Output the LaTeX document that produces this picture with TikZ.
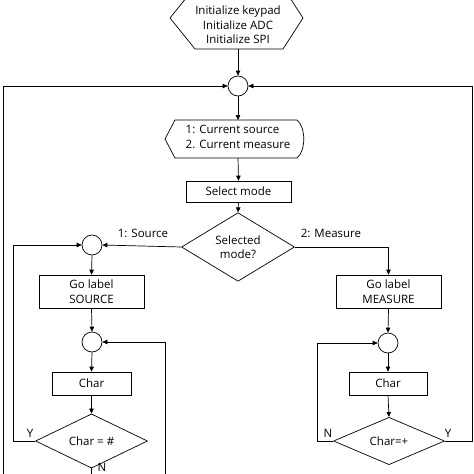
\documentclass[tikz,border=0pt]{standalone}
\usepackage{fontspec}
\setmainfont{Open Sans}
\usetikzlibrary{arrows.meta,shapes.geometric}
\begin{document}
\begin{tikzpicture}[x=1pt,y=-1pt,
  font=\fontsize{11.5}{14.5}\selectfont,
  line width=0.7pt,
  flow/.style={draw=black, line width=0.7pt, -{Triangle[length=5pt,width=4.5pt]}},
  plain/.style={draw=black, line width=0.7pt},
  boxnode/.style={draw=black, line width=0.7pt, rectangle, inner sep=0pt, align=center},
  joint/.style={draw=black, line width=0.7pt, circle, inner sep=0pt, minimum size=20pt},
  decision/.style={draw=black, line width=0.7pt, diamond, inner sep=0pt, align=center},
  lbl/.style={inner sep=0pt}
]
\useasboundingbox (0,0) rectangle (474,474);
\clip (0,0) rectangle (474,474);
\fill[white] (0,0) rectangle (474,474);

% top hexagon
\draw[plain] (195,-13) -- (170,18) -- (195,49) -- (283,49) -- (303,18) -- (283,-13) -- cycle;
\node[lbl, align=center] (init) at (238,25) {Initialize keypad\\Initialize ADC\\Initialize SPI};
\coordinate (initb) at (238,49);

\node[joint] (c1) at (238,86) {};

% display shape
\draw[plain] (165,139) -- (175,120) -- (297,120) .. controls (306,127) and (306,151) .. (297,158) -- (175,158) -- cycle;
\node[lbl, align=left] (disp) at (238,137) {1: Current source\\2. Current measure};
\coordinate (dispt) at (238,120);
\coordinate (dispb) at (238,158);

\node[boxnode, minimum width=105pt, minimum height=21pt] (sel) at (238.5,191.5) {Select mode};
\node[decision, minimum width=113pt, minimum height=49pt] (d1) at (238,247) {Selected\\mode?};

% left column
\node[joint] (c2) at (92,245) {};
\node[boxnode, minimum width=105pt, minimum height=33pt] (src) at (91.5,291.5) {Go label\\SOURCE};
\node[joint] (c3) at (92,342) {};
\node[boxnode, minimum width=79pt, minimum height=23pt] (chl) at (91.5,383.5) {Char};
\node[decision, minimum width=112pt, minimum height=44pt] (d2) at (91.5,441) {Char = \#};

% right column
\node[boxnode, minimum width=105pt, minimum height=33pt] (meas) at (388.5,291.5) {Go label\\MEASURE};
\node[joint] (c4) at (388,343) {};
\node[boxnode, minimum width=78pt, minimum height=23pt] (chr) at (388,383.5) {Char};
\node[decision, minimum width=111pt, minimum height=44pt] (d3) at (389,441) {Char=+};

% loop corner coordinates
\coordinate (bl) at (3,474);
\coordinate (bm) at (165,474);
\coordinate (bn) at (91.5,474);
\coordinate (yl) at (13,441);
\coordinate (nr) at (317,441);
\coordinate (yr) at (472,441);

% connectors
\draw[flow] (initb) -- (c1.north);
\draw[flow] (c1.south) -- (dispt);
\draw[flow] (dispb) -- (sel.north);
\draw[flow] (sel.south) -- (d1.north);
\draw[flow] (d1.west) -- (c2.east);
\draw[flow] (d1.east) -| (meas.north);
\draw[flow] (c2.south) -- (src.north);
\draw[flow] (src.south) -- (c3.north);
\draw[flow] (c3.south) -- (chl.north);
\draw[flow] (chl.south) -- (d2.north);
\draw[flow] (d2.west) -- (yl) |- (c2.west);
\draw[plain] (d2.south) -- (bn);
\draw[flow] (bm) |- (c3.east);
\draw[flow] (meas.south) -- (c4.north);
\draw[flow] (c4.south) -- (chr.north);
\draw[flow] (chr.south) -- (d3.north);
\draw[flow] (d3.west) -- (nr) |- (c4.west);
\draw[flow] (d3.east) -- (yr) |- (c1.east);
\draw[flow] (bl) |- (c1.west);

% labels
\node[lbl] (lsrc) at (143,233) {1: Source};
\node[lbl] (lmeas) at (331,233) {2: Measure};
\node[lbl] (ly1) at (30,433) {Y};
\node[lbl] (ln1) at (102,467) {N};
\node[lbl] (ln2) at (328,433) {N};
\node[lbl] (ly2) at (448,433) {Y};
\end{tikzpicture}
\end{document}
